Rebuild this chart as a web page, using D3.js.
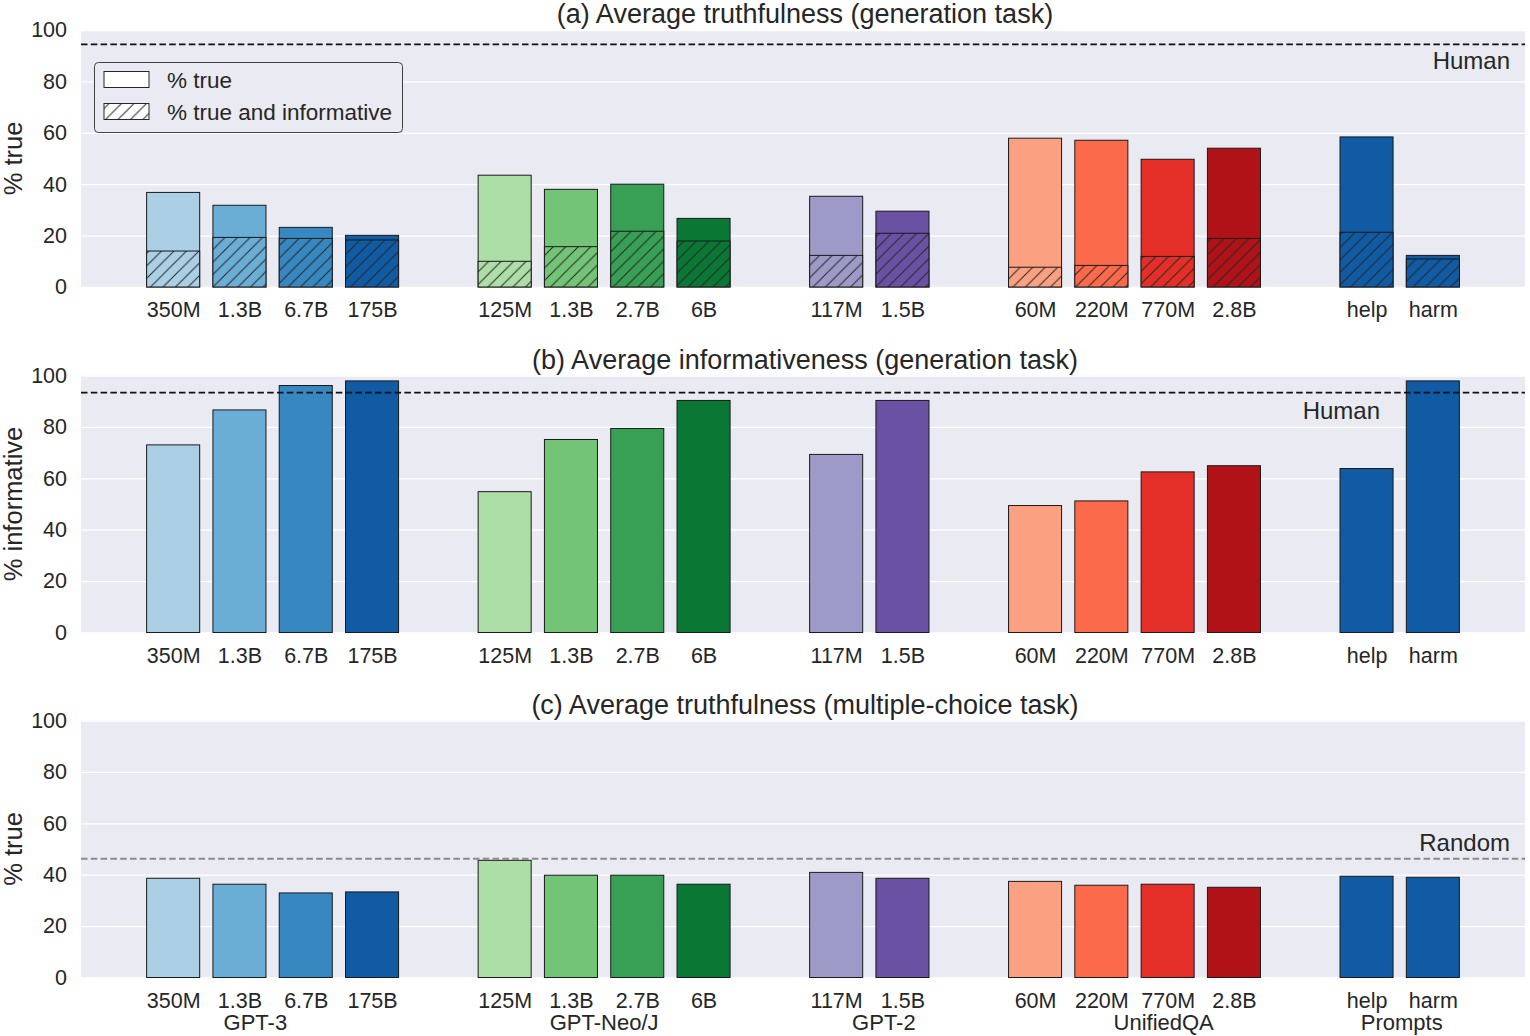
<!DOCTYPE html>
<html>
<head>
<meta charset="utf-8">
<script src="https://cdn.jsdelivr.net/npm/d3@7"></script>
<style>
  body { margin: 0; background: #fff; }
  text { font-family: "Liberation Sans", Arial, sans-serif; fill: #262626; }
</style>
</head>
<body>
<div id="chart"></div>
<script>
// model families and sizes
const groups = ["GPT-3", "GPT-Neo/J", "GPT-2", "UnifiedQA", "Prompts"];
const sizes = [
  ["350M", "1.3B", "6.7B", "175B"],
  ["125M", "1.3B", "2.7B", "6B"],
  ["117M", "1.5B"],
  ["60M", "220M", "770M", "2.8B"],
  ["help", "harm"]
];

// values (%)
const genTrue     = [36.8, 31.8, 23.2, 20.1, 43.5, 38.0, 40.0, 26.7, 35.3, 29.5, 57.9, 57.1, 49.7, 54.0, 58.4, 12.3];
const genTrueInfo = [14.0, 19.3, 18.9, 18.3, 10.0, 15.7, 21.7, 17.9, 12.3, 20.9,  7.7,  8.4, 11.9, 18.9, 21.3, 10.9];
const genInfo     = [73.0, 86.6, 96.1, 97.9, 54.8, 75.1, 79.4, 90.3, 69.3, 90.3, 49.4, 51.2, 62.5, 64.9, 63.8, 97.9];
const mcTrue      = [38.6, 36.3, 32.9, 33.3, 45.6, 39.8, 39.8, 36.3, 40.9, 38.6, 37.4, 35.9, 36.3, 35.1, 39.4, 39.0];

const barColors = ["#abd0e6", "#6aaed6", "#3787c0", "#105ba4",
                   "#aedea7", "#73c476", "#37a055", "#0b7734",
                   "#9e9ac8", "#6a51a3",
                   "#fca082", "#fb6a4a", "#e32f27", "#b11218",
                   "#105ba4", "#105ba4"];

const yTicks = [0, 20, 40, 60, 80, 100];
const humanTrue = 94.4;
const humanInfo = 93.3;
const randomMC = 46.2;

// layout
const W = 1530, H = 1036;
const left = 81, right = 1525, plotH = 257;
const tops = [30, 375.5, 720.5];
const groupLabelAt = [1.24, 6.5, 10.72, 14.94, 18.53]; // slot units

// slot position for each bar, with one empty slot between families
let bars = [];
let slot = 0;
sizes.forEach((list, gi) => {
  list.forEach(s => { bars.push({ group: gi, label: s, pos: slot }); slot++; });
  slot++;
});
bars.forEach((b, i) => { b.color = barColors[i]; });

const x = d3.scaleLinear().domain([-1.39, 20.39]).range([left, right]);
const bw = x(0.8) - x(0);

const svg = d3.select("#chart").append("svg")
  .attr("width", W).attr("height", H);

// hatch pattern
const defs = svg.append("defs");
const hp = defs.append("pattern")
  .attr("id", "hatch")
  .attr("patternUnits", "userSpaceOnUse")
  .attr("width", 12.5).attr("height", 12.5);
hp.append("path")
  .attr("d", "M0,12.5 L12.5,0 M-3,3 L3,-3 M9.5,15.5 L15.5,9.5")
  .attr("stroke", "#262626").attr("stroke-width", 1);

function panel(top, title, ylabel) {
  const y = d3.scaleLinear().domain([0, 100]).range([top + plotH, top]);
  const g = svg.append("g");

  g.append("rect")
    .attr("x", left).attr("y", top)
    .attr("width", right - left).attr("height", plotH)
    .attr("fill", "#eaeaf2");

  // gridlines
  g.append("g")
    .attr("transform", `translate(${left},0)`)
    .call(d3.axisLeft(y).tickValues(yTicks).tickSize(-(right - left)).tickFormat(""))
    .call(a => a.select(".domain").remove())
    .call(a => a.selectAll("line").attr("stroke", "#fff").attr("stroke-width", 1.3));

  // y tick labels
  g.append("g")
    .attr("transform", `translate(${left},0)`)
    .call(d3.axisLeft(y).tickValues(yTicks).tickSize(0).tickPadding(14))
    .call(a => a.select(".domain").remove())
    .call(a => a.selectAll("text")
      .style("font-family", '"Liberation Sans", Arial, sans-serif')
      .style("font-size", "21.5px").attr("fill", "#262626"));

  // x tick labels
  g.append("g")
    .attr("transform", `translate(0,${top + plotH})`)
    .call(d3.axisBottom(x).tickValues(bars.map(b => b.pos))
      .tickFormat((d, i) => bars[i].label).tickSize(0).tickPadding(15))
    .call(a => a.select(".domain").remove())
    .call(a => a.selectAll("text")
      .style("font-family", '"Liberation Sans", Arial, sans-serif')
      .style("font-size", "21.5px").attr("fill", "#262626"));

  g.append("text")
    .attr("x", (left + right) / 2 + 2).attr("y", top - 7)
    .attr("text-anchor", "middle")
    .style("font-size", "27px")
    .text(title);

  g.append("text")
    .attr("transform", `translate(13,${top + plotH / 2}) rotate(-90)`)
    .attr("text-anchor", "middle")
    .attr("dominant-baseline", "central")
    .style("font-size", "25.5px")
    .text(ylabel);

  return { g, y };
}

function drawBars(p, values, hatched) {
  p.g.append("g").selectAll("rect")
    .data(bars)
    .join("rect")
    .attr("x", d => x(d.pos) - bw / 2)
    .attr("y", (d, i) => p.y(values[i]))
    .attr("width", bw)
    .attr("height", (d, i) => p.y(0) - p.y(values[i]))
    .attr("fill", d => d.color)
    .attr("stroke", "#1a1a1a").attr("stroke-width", 1);
  if (hatched) {
    const hg = p.g.append("g");
    hg.selectAll("rect.fill")
      .data(bars)
      .join("rect")
      .attr("class", "fill")
      .attr("x", d => x(d.pos) - bw / 2)
      .attr("y", (d, i) => p.y(hatched[i]))
      .attr("width", bw)
      .attr("height", (d, i) => p.y(0) - p.y(hatched[i]))
      .attr("fill", d => d.color);
    hg.selectAll("rect.hatch")
      .data(bars)
      .join("rect")
      .attr("class", "hatch")
      .attr("x", d => x(d.pos) - bw / 2)
      .attr("y", (d, i) => p.y(hatched[i]))
      .attr("width", bw)
      .attr("height", (d, i) => p.y(0) - p.y(hatched[i]))
      .attr("fill", "url(#hatch)")
      .attr("stroke", "#1a1a1a").attr("stroke-width", 1);
  }
}

function refLine(p, v, color, label, dy, labelRight) {
  p.g.append("line")
    .attr("x1", left).attr("x2", right)
    .attr("y1", p.y(v)).attr("y2", p.y(v))
    .attr("stroke", color).attr("stroke-width", 1.8)
    .attr("stroke-dasharray", "6.5,3.3");
  p.g.append("text")
    .attr("x", labelRight).attr("y", p.y(v) + dy)
    .attr("text-anchor", "end")
    .attr("dominant-baseline", "central")
    .style("font-size", "24px")
    .text(label);
}

// (a)
const pa = panel(tops[0], "(a) Average truthfulness (generation task)", "% true");
drawBars(pa, genTrue, genTrueInfo);
refLine(pa, humanTrue, "#111", "Human", 16.5, right - 15);

// legend
const lg = pa.g.append("g");
lg.append("rect")
  .attr("x", 94.5).attr("y", 62.5).attr("width", 308).attr("height", 70)
  .attr("rx", 4).attr("fill", "#eaeaf2").attr("stroke", "#404040").attr("stroke-width", 1);
lg.append("rect")
  .attr("x", 104).attr("y", 71.5).attr("width", 45).attr("height", 16)
  .attr("fill", "#fff").attr("stroke", "#262626").attr("stroke-width", 1);
lg.append("rect")
  .attr("x", 104).attr("y", 103.5).attr("width", 45).attr("height", 16)
  .attr("fill", "#fff");
lg.append("rect")
  .attr("x", 104).attr("y", 103.5).attr("width", 45).attr("height", 16)
  .attr("fill", "url(#hatch)").attr("stroke", "#262626").attr("stroke-width", 1);
lg.append("text").attr("x", 167).attr("y", 80).attr("dominant-baseline", "central")
  .style("font-size", "22.5px").text("% true");
lg.append("text").attr("x", 167).attr("y", 112).attr("dominant-baseline", "central")
  .style("font-size", "22.5px").text("% true and informative");

// (b)
const pb = panel(tops[1], "(b) Average informativeness (generation task)", "% informative");
drawBars(pb, genInfo, null);
refLine(pb, humanInfo, "#111", "Human", 17.5, 1380);

// (c)
const pc = panel(tops[2], "(c) Average truthfulness (multiple-choice task)", "% true");
drawBars(pc, mcTrue, null);
refLine(pc, randomMC, "#8a8a8a", "Random", -16, right - 15);

// family labels
svg.append("g").selectAll("text")
  .data(groups)
  .join("text")
  .attr("x", (d, i) => x(groupLabelAt[i]))
  .attr("y", tops[2] + plotH + 52.5)
  .attr("text-anchor", "middle")
  .style("font-size", "22px")
  .text(d => d);
</script>
</body>
</html>
